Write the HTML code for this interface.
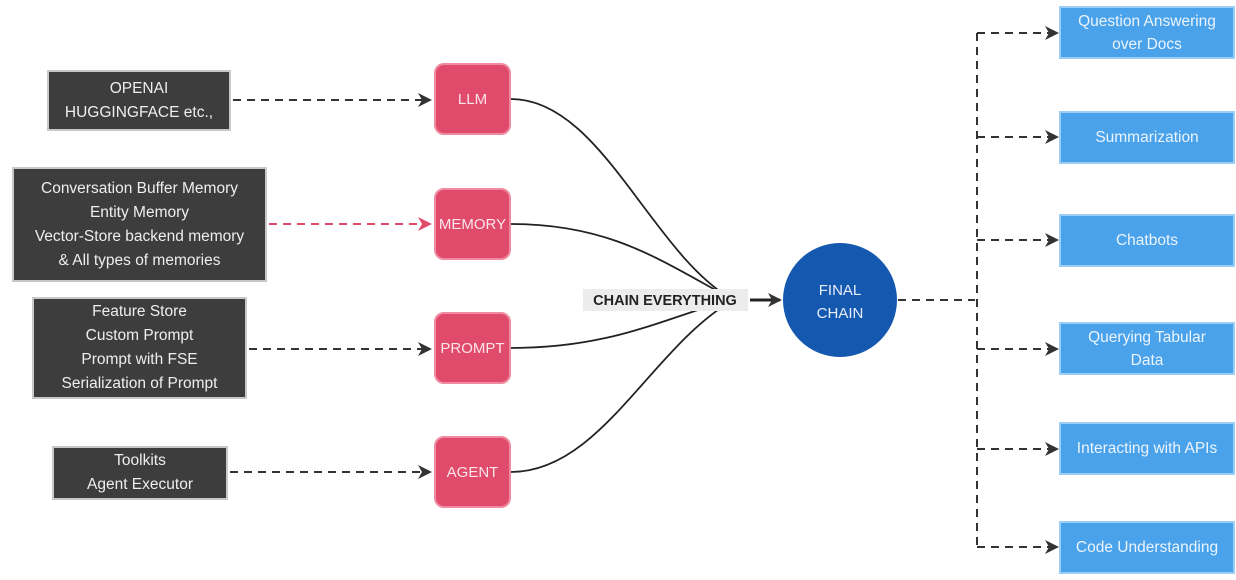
<!DOCTYPE html>
<html><head><meta charset="utf-8"><style>
body{margin:0;width:1236px;height:580px;background:#fff;position:relative;overflow:hidden;font-family:"Liberation Sans",sans-serif}
.d{position:absolute;background:#3d3d3d;border:2px solid #c8c8c8;color:#eee;font-size:15.5px;line-height:24px;text-align:center;display:flex;flex-direction:column;justify-content:center;box-sizing:border-box}
.p{position:absolute;left:434px;width:77px;height:72px;background:#e04b6b;border-radius:10px;color:#fde4ea;font-size:15px;display:flex;align-items:center;justify-content:center;box-sizing:border-box;border:2px solid #f08aa0}
.b{position:absolute;left:1059px;width:176px;height:53px;background:#4aa2ea;border:2px solid #9ccdf3;color:#eaf4fd;font-size:15.5px;line-height:23px;text-align:center;display:flex;flex-direction:column;justify-content:center;box-sizing:border-box}
</style></head><body>
<svg width="1236" height="580" style="position:absolute;left:0;top:0">
<defs>
<marker id="a" markerWidth="14" markerHeight="14" refX="12" refY="7" orient="auto" markerUnits="userSpaceOnUse"><path d="M0,0 L14,7 L0,14 L4,7z" fill="#333"/></marker>
<marker id="r" markerWidth="14" markerHeight="14" refX="12" refY="7" orient="auto" markerUnits="userSpaceOnUse"><path d="M0,0 L14,7 L0,14 L4,7z" fill="#e04b6b"/></marker>
</defs>
<g stroke="#333" stroke-width="2" stroke-dasharray="8,6" fill="none">
<line x1="233" y1="100" x2="430" y2="100" marker-end="url(#a)"/>
<line x1="249" y1="349" x2="430" y2="349" marker-end="url(#a)"/>
<line x1="230" y1="472" x2="430" y2="472" marker-end="url(#a)"/>
<line x1="898" y1="300" x2="975" y2="300"/>
<line x1="977" y1="33" x2="977" y2="547"/>
<line x1="977" y1="33" x2="1057" y2="33" marker-end="url(#a)"/>
<line x1="977" y1="137" x2="1057" y2="137" marker-end="url(#a)"/>
<line x1="977" y1="240" x2="1057" y2="240" marker-end="url(#a)"/>
<line x1="977" y1="349" x2="1057" y2="349" marker-end="url(#a)"/>
<line x1="977" y1="449" x2="1057" y2="449" marker-end="url(#a)"/>
<line x1="977" y1="547" x2="1057" y2="547" marker-end="url(#a)"/>
</g>
<line x1="269" y1="224" x2="430" y2="224" stroke="#e04b6b" stroke-width="2" stroke-dasharray="8,6" marker-end="url(#r)"/>
<g stroke="#222" stroke-width="1.8" fill="none">
<path d="M511,99 C600,99 650,250 730,298"/>
<path d="M511,224 C610,224 660,260 730,298"/>
<path d="M511,348 C610,348 660,320 730,300"/>
<path d="M511,472 C600,472 650,350 730,302"/>
</g>
<rect x="583" y="289" width="165" height="22" fill="#ececec"/>
<text x="665" y="305" text-anchor="middle" font-size="14.5" font-weight="bold" fill="#222" font-family="Liberation Sans,sans-serif">CHAIN EVERYTHING</text>
<line x1="750" y1="300" x2="780" y2="300" stroke="#222" stroke-width="3" marker-end="url(#a)"/>
<circle cx="840" cy="300" r="57" fill="#1558b0"/>
<text x="840" y="295" text-anchor="middle" font-size="15" fill="#e6eefa" font-family="Liberation Sans,sans-serif">FINAL</text>
<text x="840" y="318" text-anchor="middle" font-size="15" fill="#e6eefa" font-family="Liberation Sans,sans-serif">CHAIN</text>
</svg>
<div class="d" style="left:47px;top:70px;width:184px;height:61px"><div>OPENAI</div><div>HUGGINGFACE etc.,</div></div>
<div class="d" style="left:12px;top:167px;width:255px;height:115px"><div>Conversation Buffer Memory</div><div>Entity Memory</div><div>Vector-Store backend memory</div><div>&amp; All types of memories</div></div>
<div class="d" style="left:32px;top:297px;width:215px;height:102px"><div>Feature Store</div><div>Custom Prompt</div><div>Prompt with FSE</div><div>Serialization of Prompt</div></div>
<div class="d" style="left:52px;top:446px;width:176px;height:54px"><div>Toolkits</div><div>Agent Executor</div></div>
<div class="p" style="top:63px">LLM</div>
<div class="p" style="top:188px">MEMORY</div>
<div class="p" style="top:312px">PROMPT</div>
<div class="p" style="top:436px">AGENT</div>
<div class="b" style="top:6px"><div>Question Answering</div><div>over Docs</div></div>
<div class="b" style="top:111px">Summarization</div>
<div class="b" style="top:214px">Chatbots</div>
<div class="b" style="top:322px"><div>Querying Tabular</div><div>Data</div></div>
<div class="b" style="top:422px">Interacting with APIs</div>
<div class="b" style="top:521px">Code Understanding</div>
</body></html>
